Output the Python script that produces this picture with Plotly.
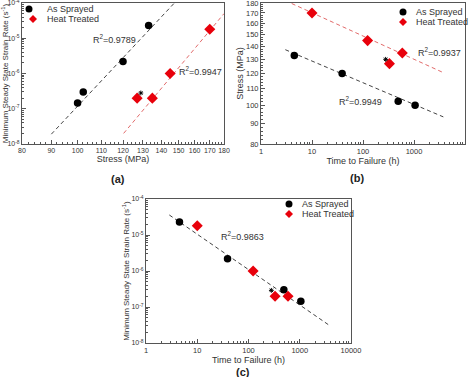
import math
import plotly.graph_objects as go

# ---------------- data ----------------
series_names = ["As Sprayed", "Heat Treated"]

sprayed_stress = [133, 120, 102.3, 100]           # MPa
sprayed_time = [4.5, 39, 490, 1050]               # h
sprayed_rate = [2.3e-5, 2.2e-6, 3.0e-7, 1.45e-7]  # 1/s

treated_stress = [170, 145, 127, 135]
treated_time = [10, 123, 330, 590]
treated_rate = [1.8e-5, 1.0e-6, 2.0e-7, 2.0e-7]

# trend lines (end points)
fit_a_sprayed_x = [90, 147.5]
fit_a_sprayed_y = [1.9e-8, 1.0e-4]
fit_a_treated_x = [120.3, 180]
fit_a_treated_y = [2.0e-8, 5.0e-5]
fit_b_sprayed_x = [3, 3760]
fit_b_sprayed_y = [137.6, 93.5]
fit_b_treated_x = [3, 3760]
fit_b_treated_y = [182.5, 120.6]
fit_c_x = [2.85, 3950]
fit_c_y = [3.6e-5, 2.96e-8]

r2_labels = ["R<sup>2</sup>=0.9789", "R<sup>2</sup>=0.9947", "R<sup>2</sup>=0.9937",
             "R<sup>2</sup>=0.9949", "R<sup>2</sup>=0.9863"]

# small asterisk marks
star_a = ([128.9], [2.8e-7])
star_b = ([278], [130.2])
star_c = ([279], [2.9e-7])

stress_ticks = [80, 90, 100, 110, 120, 130, 140, 150, 160, 170, 180]
rate_ticks = [1e-8, 1e-7, 1e-6, 1e-5, 1e-4]
rate_ticktext = ["10<sup>-8</sup>", "10<sup>-7</sup>", "10<sup>-6</sup>", "10<sup>-5</sup>", "10<sup>-4</sup>"]
time_ticks = [1, 10, 100, 1000, 10000]
time_ticktext = ["1", "10", "100", "1000", "10000"]

# ---------------- figure ----------------
W, H = 474, 377
FONT = "Liberation Sans, Arial, sans-serif"
AX = "#555555"
TXT = "#333333"
BLACK = "#000000"
RED = "#e8000b"
RED_LINE = "#e26b6b"
BLK_LINE = "#444444"


def px_x(p):
    return p / W


def px_y(p):
    return 1 - p / H


fig = go.Figure()


def pts(x, y, xa, ya, name, color, symbol, size):
    fig.add_trace(go.Scatter(x=x, y=y, xaxis=xa, yaxis=ya, mode="markers", name=name,
                             marker=dict(color=color, symbol=symbol, size=size,
                                         line=dict(width=0)),
                             showlegend=False, cliponaxis=False))


def fit(x, y, xa, ya, color):
    fig.add_trace(go.Scatter(x=x, y=y, xaxis=xa, yaxis=ya, mode="lines",
                             line=dict(color=color, width=1, dash="4px,3px"),
                             showlegend=False, hoverinfo="skip"))


def star(s, xa, ya):
    fig.add_trace(go.Scatter(x=s[0], y=s[1], xaxis=xa, yaxis=ya, mode="markers",
                             marker=dict(symbol="asterisk-open", size=4, color=BLACK,
                                         line=dict(width=1, color=BLACK)),
                             showlegend=False, hoverinfo="skip"))


# panel (a)
fit(fit_a_sprayed_x, fit_a_sprayed_y, "x", "y", BLK_LINE)
fit(fit_a_treated_x, fit_a_treated_y, "x", "y", RED_LINE)
pts(sprayed_stress, sprayed_rate, "x", "y", series_names[0], BLACK, "circle", 7.5)
pts(treated_stress, treated_rate, "x", "y", series_names[1], RED, "diamond", 8.5)
star(star_a, "x", "y")

# panel (b)
fit(fit_b_sprayed_x, fit_b_sprayed_y, "x2", "y2", BLK_LINE)
fit(fit_b_treated_x, fit_b_treated_y, "x2", "y2", RED_LINE)
pts(sprayed_time, sprayed_stress, "x2", "y2", series_names[0], BLACK, "circle", 7.5)
pts(treated_time, treated_stress, "x2", "y2", series_names[1], RED, "diamond", 8.5)
star(star_b, "x2", "y2")

# panel (c)
fit(fit_c_x, fit_c_y, "x3", "y3", BLK_LINE)
pts(sprayed_time, sprayed_rate, "x3", "y3", series_names[0], BLACK, "circle", 7.5)
pts(treated_time, treated_rate, "x3", "y3", series_names[1], RED, "diamond", 8.5)
star(star_c, "x3", "y3")


def axis(domain, rng, tickvals, ticktext, title, anchor, minor_vals, tsize, ticksize):
    return dict(domain=domain, type="log", range=rng, tickvals=tickvals, ticktext=ticktext,
                showgrid=False, zeroline=False, showline=True, linecolor=AX, linewidth=1,
                mirror=True, ticks="inside", ticklen=4, tickcolor=AX, tickangle=0,
                tickfont=dict(family=FONT, size=ticksize, color=TXT),
                title=dict(text=title, font=dict(family=FONT, size=tsize, color=TXT),
                           standoff=0), anchor=anchor,
                minor=dict(tickvals=minor_vals, ticks="inside", ticklen=2, tickcolor=AX),
                automargin=False)


stress_minor = list(range(82, 180, 2))
decade_minor = [m * 10 ** e for e in range(-8, 4) for m in range(2, 10)]
rate_title = "Minimum Steady State Strain Rate (s<sup>-1</sup>)"

fig.update_layout(
    width=W, height=H, margin=dict(l=0, r=0, t=0, b=0),
    paper_bgcolor="white", plot_bgcolor="white",
    font=dict(family=FONT, color=TXT),
    showlegend=False,
    xaxis=axis([px_x(22), px_x(224)], [math.log10(80), math.log10(180)], stress_ticks,
               [str(v) for v in stress_ticks], "Stress (MPa)", "y", stress_minor, 9, 7),
    yaxis=axis([px_y(144), px_y(3)], [-8, -4], rate_ticks, rate_ticktext,
               rate_title, "x", decade_minor, 8, 7),
    xaxis2=axis([px_x(261), px_x(465)], [0, 4], time_ticks, time_ticktext,
                "Time to Failure (h)", "y2", decade_minor, 9, 7.5),
    yaxis2=axis([px_y(144), px_y(3)], [math.log10(80), math.log10(180)], stress_ticks,
                [str(v) for v in stress_ticks], "Stress (MPa)", "x2", stress_minor, 9, 7.5),
    xaxis3=axis([px_x(146), px_x(351)], [0, 4], time_ticks, time_ticktext,
                "Time to Failure (h)", "y3", decade_minor, 9, 7.5),
    yaxis3=axis([px_y(343), px_y(199)], [-8, -4], rate_ticks, rate_ticktext,
                rate_title, "x3", decade_minor, 8, 7),
)

# legends drawn as symbols + text (tight spacing like the reference)
legend_font = dict(family=FONT, size=9, color=TXT)
legend_specs = [  # (symbol x for each entry, row y's, text x)
    ((29, 33), (9, 19), 45),
    ((403, 403), (12, 22), 414),
    ((289, 289), (204, 214), 300),
]
for (sx, rows, tx) in legend_specs:
    # black circle
    cx, cy, r = sx[0], rows[0], 3.5
    fig.add_shape(type="circle", xref="paper", yref="paper",
                  x0=px_x(cx - r), x1=px_x(cx + r), y0=px_y(cy + r), y1=px_y(cy - r),
                  fillcolor=BLACK, line=dict(width=0))
    # red diamond
    dx, dy, d = sx[1], rows[1], 4
    path = "M {} {} L {} {} L {} {} L {} {} Z".format(
        px_x(dx), px_y(dy - d), px_x(dx + d), px_y(dy), px_x(dx), px_y(dy + d), px_x(dx - d), px_y(dy))
    fig.add_shape(type="path", xref="paper", yref="paper", path=path,
                  fillcolor=RED, line=dict(width=0))
    for name, ry in zip(series_names, rows):
        fig.add_annotation(text=name, x=px_x(tx), y=px_y(ry), xref="paper", yref="paper",
                           showarrow=False, font=legend_font, xanchor="left", yanchor="middle")

ann_font = dict(family=FONT, size=9, color=TXT)
for text, (px, py) in zip(r2_labels, [(114, 39), (200, 71), (439, 52), (360, 101), (242, 236)]):
    fig.add_annotation(text=text, x=px_x(px), y=px_y(py), xref="paper", yref="paper",
                       showarrow=False, font=ann_font, xanchor="center", yanchor="middle")

panel_font = dict(family=FONT, size=11, color="#222222")
for text, (px, py) in zip(["<b>(a)</b>", "<b>(b)</b>", "<b>(c)</b>"], [(118, 179), (357, 178), (243, 372)]):
    fig.add_annotation(text=text, x=px_x(px), y=px_y(py), xref="paper", yref="paper",
                       showarrow=False, font=panel_font, xanchor="center", yanchor="middle")

fig.write_html("out.html", config={"displayModeBar": False},
               post_script="document.body.style.margin='0px';document.body.style.overflow='hidden';")
